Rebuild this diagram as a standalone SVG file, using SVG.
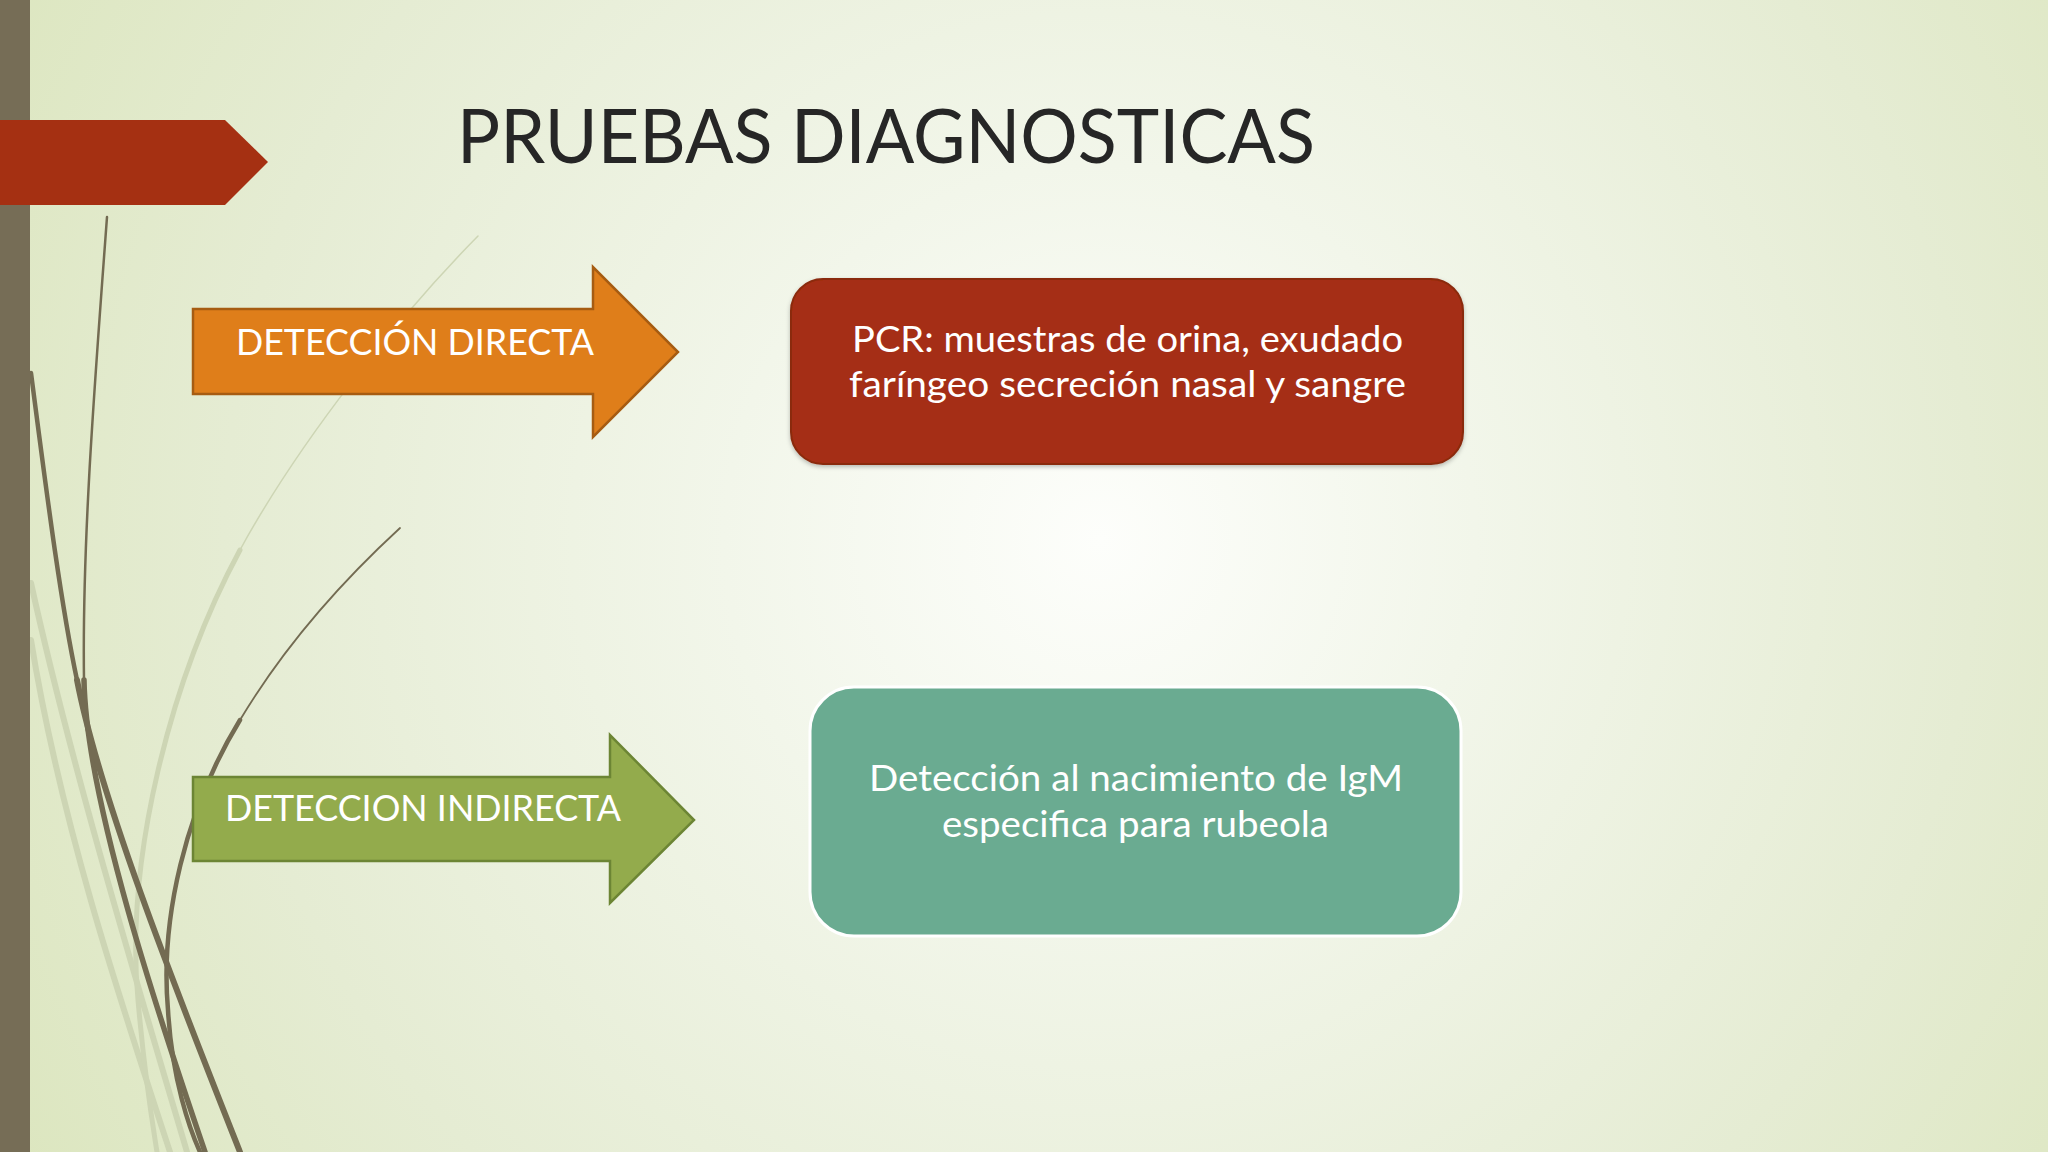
<svg xmlns="http://www.w3.org/2000/svg" width="2048" height="1152" viewBox="0 0 2048 1152">
  <defs>
    <radialGradient id="bg" cx="1100" cy="540" r="1250" gradientUnits="userSpaceOnUse">
      <stop offset="0" stop-color="#fdfefb"/>
      <stop offset="0.3" stop-color="#f2f6ea"/>
      <stop offset="0.7" stop-color="#e5ecd3"/>
      <stop offset="1" stop-color="#dce6bf"/>
    </radialGradient>
    <filter id="shadow" x="-5%" y="-5%" width="110%" height="115%">
      <feDropShadow dx="0" dy="2" stdDeviation="2" flood-color="#000" flood-opacity="0.25"/>
    </filter>
  </defs>
  <style>
    .lbl { font-family: Lato, "Open Sans", "Liberation Sans", sans-serif; fill: #ffffff; font-size: 37px; }
    .box { font-family: Lato, "Open Sans", "Liberation Sans", sans-serif; fill: #ffffff; font-size: 37.5px; }
    .title { font-family: Lato, "Open Sans", "Liberation Sans", sans-serif; fill: #262626; font-size: 75px; }
    .dark { fill: none; stroke: #736b52; stroke-linecap: round; }
    .light { fill: none; stroke: #cdd5b4; stroke-linecap: round; }
  </style>

  <rect id="background" x="0" y="0" width="2048" height="1152" fill="url(#bg)"/>

  <g id="grass">
    <path class="light" d="M31,640 C 60,820 120,1000 170,1152" stroke-width="6"/>
    <path class="light" d="M31,583 C 70,760 130,960 187,1152" stroke-width="6"/>
    <path class="light" d="M478,236 C 400,315 300,440 240,550" stroke-width="1.5" stroke="#c8ccbc"/>
    <path class="light" d="M240,550 C 170,680 125,860 138,1000 C 145,1080 152,1120 157,1152" stroke-width="5"/>
    <path class="dark" d="M107,217 C 95,380 82,540 84,680" stroke-width="2.5"/>
    <path class="dark" d="M84,680 C 86,800 160,1020 205,1152" stroke-width="5.5"/>
    <path class="dark" d="M31,373 C 45,480 60,600 77,680" stroke-width="4.5"/>
    <path class="dark" d="M77,680 C 100,800 180,1000 240,1152" stroke-width="6"/>
    <path class="dark" d="M400,528 Q 300,620 240,720" stroke-width="1.8"/>
    <path class="dark" d="M240,720 C 185,810 160,920 168,1010 C 172,1080 190,1130 200,1152" stroke-width="4.5"/>
  </g>

  <rect id="side-bar" x="0" y="0" width="30" height="1152" fill="#766d56"/>

  <g id="banner">
    <polygon points="0,120 225,120 268,162 225,205 0,205" fill="#a53012"/>
  </g>

  <g id="title">
    <text class="title" x="457" y="163" textLength="858" lengthAdjust="spacingAndGlyphs">PRUEBAS DIAGNOSTICAS</text>
  </g>

  <g id="connectors"></g>

  <g id="arrow-directa">
    <polygon points="193,309 593,309 593,267 678,352 593,437 593,394 193,394" fill="#df7e1a" stroke="#a65c12" stroke-width="2.5"/>
    <text class="lbl" x="236" y="355" textLength="358" lengthAdjust="spacingAndGlyphs">DETECCIÓN DIRECTA</text>
  </g>

  <g id="arrow-indirecta">
    <polygon points="193,777 610,777 610,735 694,820 610,903 610,861 193,861" fill="#93ab4c" stroke="#6c8534" stroke-width="2.5"/>
    <text class="lbl" x="225" y="821" textLength="396" lengthAdjust="spacingAndGlyphs">DETECCION INDIRECTA</text>
  </g>

  <g id="box-pcr">
    <rect x="791" y="279" width="672" height="185" rx="32" ry="32" fill="#a52f12" stroke="#8a2a10" stroke-width="2" filter="url(#shadow)"/>
    <text class="box" x="852" y="352" textLength="551" lengthAdjust="spacingAndGlyphs">PCR: muestras de orina, exudado</text>
    <text class="box" x="849" y="397" textLength="557" lengthAdjust="spacingAndGlyphs">faríngeo secreción nasal y sangre</text>
  </g>

  <g id="box-igm">
    <rect x="810" y="687" width="651" height="249" rx="44" ry="44" fill="#6aab91" stroke="#ffffff" stroke-width="3"/>
    <text class="box" x="869" y="791" textLength="534" lengthAdjust="spacingAndGlyphs">Detección al nacimiento de IgM</text>
    <text class="box" x="942" y="837" textLength="387" lengthAdjust="spacingAndGlyphs">especifica para rubeola</text>
  </g>
</svg>
